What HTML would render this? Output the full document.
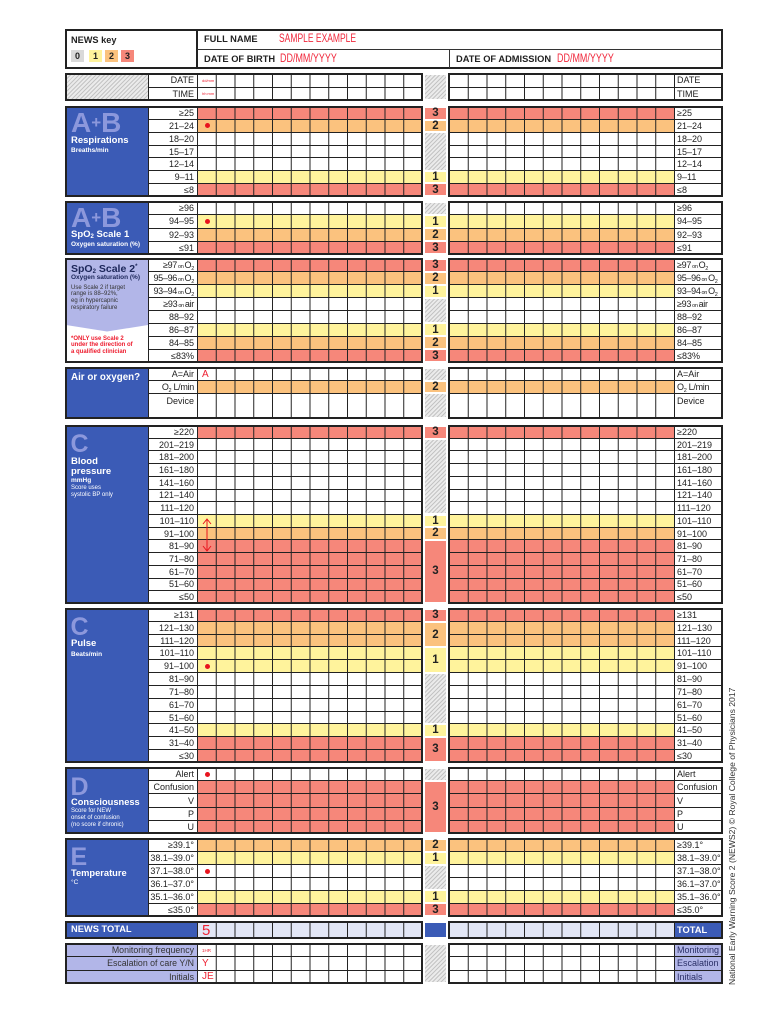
<!DOCTYPE html>
<html><head><meta charset="utf-8">
<style>
*{margin:0;padding:0;box-sizing:border-box}
html,body{width:768px;height:1024px;background:#fff;overflow:hidden}
body{position:relative;font-family:"Liberation Sans",Arial,sans-serif;color:#222}
.a{position:absolute;white-space:nowrap}
.rows{position:absolute;display:flex;flex-direction:column}
.L{left:148px;width:274px}
.Rt{left:449px;width:273px}
.r{flex:1 1 0;display:flex;border-bottom:1px solid #222;min-height:0}
.r:last-child{border-bottom:0}
.r b{width:49px;flex:none;font-weight:normal;font-size:9px;background:#fff;display:flex;align-items:center;justify-content:flex-end;padding-right:3px;white-space:nowrap;overflow:hidden;border-left:1px solid #222;color:#222}
.r i{flex:1;position:relative;background-image:linear-gradient(to right,#222 1px,transparent 1px);background-size:18.75px 100%}
.Rt .r{flex-direction:row-reverse}
.Rt .r b{width:48px;justify-content:flex-start;padding-left:2px;padding-right:0}
.R i{background-color:#f6877a}
.O i{background-color:#fbc27e}
.Y i{background-color:#fff39c}
.T i{background-color:#e2e6f5}
.bx{position:absolute;border:2px solid #222;pointer-events:none}
.m{position:absolute;left:425px;width:21px;top:calc((var(--t) + var(--rh) * var(--a)) * 1px + 1px);height:calc(var(--rh) * var(--n) * 1px - 2px);display:flex;align-items:center;justify-content:center;font-weight:bold;font-size:11.5px;color:#222}
.h{background:repeating-linear-gradient(-45deg,#c4c4c4 0 1px,#ebebeb 1px 3px)}
.mR{background:#f6877a}.mO{background:#fbc27e}.mY{background:#fff39c}.mB{background:#3b5bb6}
.pan{position:absolute;left:66px;width:82px;background:#3b5bb6}
.big{position:absolute;left:70.5px;font-weight:bold;color:#8c98dc;font-size:25px;line-height:25px;white-space:nowrap}
.tt{position:absolute;left:71px;font-weight:bold;color:#fff;font-size:9.5px;line-height:9.5px;white-space:nowrap}
.st{position:absolute;left:71px;font-weight:bold;color:#fff;font-size:6.5px;line-height:6.5px;white-space:nowrap}
.sm{position:absolute;left:71px;color:#fff;font-size:6px;line-height:7px;white-space:nowrap}
.d{position:absolute;left:7.5px;top:50%;width:5px;height:5px;margin-top:-2.5px;border-radius:50%;background:#e8141e}
.rd{position:absolute;left:5px;top:0;bottom:0;display:flex;align-items:center;color:#ee2233;font-style:normal;font-size:10px}
.r b span{letter-spacing:-0.3px}
.r b span s,.r b span u{text-decoration:none;font-size:5.5px}
.r b span s{margin:0 1px}
.r b span u{position:relative;top:1.5px}
.kb{position:absolute;top:50px;width:13px;height:12px;font-weight:bold;font-size:9px;line-height:12px;text-align:center;color:#222}
.hd{position:absolute;font-weight:bold;font-size:9.3px;line-height:9.3px;white-space:nowrap;color:#222}
.hw{position:absolute;font-size:11.5px;line-height:11.5px;color:#f0283c;white-space:nowrap;transform-origin:0 0}
.W .r b{width:131px;background:#b2b6e8;font-size:8.8px;color:#333;border-left:0}
.V .r b{background:#b2b6e8;color:#2a2f66}
.sub{font-size:6px;position:relative;top:1.5px}
</style></head><body>

<!-- HEADER -->
<div class="bx" style="left:65px;top:29px;width:658px;height:40px"></div>
<div class="a" style="left:196px;top:30px;width:2px;height:38px;background:#222"></div>
<div class="a" style="left:197px;top:48.5px;width:525px;height:1.5px;background:#333"></div>
<div class="a" style="left:448.5px;top:49px;width:1.5px;height:19px;background:#333"></div>
<div class="hd" style="left:71px;top:35.5px;font-size:9.2px">NEWS key</div>
<div class="kb" style="left:71px;background:#d9d9d9">0</div>
<div class="kb" style="left:89px;background:#fff39c">1</div>
<div class="kb" style="left:105px;background:#fbc27e">2</div>
<div class="kb" style="left:121px;background:#f6877a">3</div>
<div class="hd" style="left:204px;top:34.8px">FULL NAME</div>
<div class="hw" style="left:279px;top:33.5px;transform:scaleX(.74)">SAMPLE EXAMPLE</div>
<div class="hd" style="left:204px;top:54.5px">DATE OF BIRTH</div>
<div class="hw" style="left:280px;top:53.5px;transform:scaleX(.78)">DD/MM/YYYY</div>
<div class="hd" style="left:456px;top:54.5px">DATE OF ADMISSION</div>
<div class="hw" style="left:557px;top:53.5px;transform:scaleX(.78)">DD/MM/YYYY</div>

<!-- DATE/TIME -->
<div class="a h" style="left:66px;top:74px;width:82px;height:26px"></div>
<div class="rows L" style="top:74px;height:26px">
<div class="r"><b>DATE</b><i><em class="rd" style="font-size:4px">dd/mm</em></i></div>
<div class="r"><b>TIME</b><i><em class="rd" style="font-size:4px">hh:mm</em></i></div>
</div>
<div class="rows Rt" style="top:74px;height:26px">
<div class="r"><b>DATE</b><i></i></div>
<div class="r"><b>TIME</b><i></i></div>
</div>
<div style="--t:74;--rh:13"><div class="m h" style="--a:0;--n:2"></div></div>
<div class="bx" style="left:65px;top:73px;width:358px;height:28px"></div>
<div class="bx" style="left:448px;top:73px;width:275px;height:28px"></div>

<!-- RESPIRATIONS -->
<div class="pan" style="top:107px;height:89px"></div>
<div class="big" style="top:109px;font-size:28px;line-height:28px;left:71px">A<span style="font-size:17px;position:relative;top:-4px">+</span>B</div>
<div class="tt" style="top:136px">Respirations</div>
<div class="st" style="top:148.2px">Breaths/min</div>
<div class="rows L" style="top:107px;height:89px">
<div class="r R"><b>≥25</b><i></i></div>
<div class="r O"><b>21–24</b><i><em class="d"></em></i></div>
<div class="r"><b>18–20</b><i></i></div>
<div class="r"><b>15–17</b><i></i></div>
<div class="r"><b>12–14</b><i></i></div>
<div class="r Y"><b>9–11</b><i></i></div>
<div class="r R"><b>≤8</b><i></i></div>
</div>
<div class="rows Rt" style="top:107px;height:89px">
<div class="r R"><b>≥25</b><i></i></div>
<div class="r O"><b>21–24</b><i></i></div>
<div class="r"><b>18–20</b><i></i></div>
<div class="r"><b>15–17</b><i></i></div>
<div class="r"><b>12–14</b><i></i></div>
<div class="r Y"><b>9–11</b><i></i></div>
<div class="r R"><b>≤8</b><i></i></div>
</div>
<div style="--t:107;--rh:12.714">
<div class="m mR" style="--a:0;--n:1">3</div>
<div class="m mO" style="--a:1;--n:1">2</div>
<div class="m h" style="--a:2;--n:3"></div>
<div class="m mY" style="--a:5;--n:1">1</div>
<div class="m mR" style="--a:6;--n:1">3</div>
</div>
<div class="bx" style="left:65px;top:106px;width:358px;height:91px"></div>
<div class="bx" style="left:448px;top:106px;width:275px;height:91px"></div>

<!-- SPO2 SCALE 1 -->
<div class="pan" style="top:202px;height:52px"></div>
<div class="big" style="top:204.4px;font-size:28px;line-height:28px;left:71px">A<span style="font-size:17px;position:relative;top:-4px">+</span>B</div>
<div class="tt" style="top:229.8px">SpO<span class="sub">2</span> Scale 1</div>
<div class="st" style="top:242.2px">Oxygen saturation (%)</div>
<div class="rows L" style="top:202px;height:52px">
<div class="r"><b>≥96</b><i></i></div>
<div class="r Y"><b>94–95</b><i><em class="d"></em></i></div>
<div class="r O"><b>92–93</b><i></i></div>
<div class="r R"><b>≤91</b><i></i></div>
</div>
<div class="rows Rt" style="top:202px;height:52px">
<div class="r"><b>≥96</b><i></i></div>
<div class="r Y"><b>94–95</b><i></i></div>
<div class="r O"><b>92–93</b><i></i></div>
<div class="r R"><b>≤91</b><i></i></div>
</div>
<div style="--t:202;--rh:13">
<div class="m h" style="--a:0;--n:1"></div>
<div class="m mY" style="--a:1;--n:1">1</div>
<div class="m mO" style="--a:2;--n:1">2</div>
<div class="m mR" style="--a:3;--n:1">3</div>
</div>
<div class="bx" style="left:65px;top:201px;width:358px;height:54px"></div>
<div class="bx" style="left:448px;top:201px;width:275px;height:54px"></div>

<!-- SPO2 SCALE 2 -->
<svg class="a" style="left:66px;top:259px" width="82" height="103"><polygon points="0,0 82,0 82,66 41,72.5 0,66" fill="#b2b6e8"/></svg>
<div class="tt" style="top:263.6px;font-size:10.5px;line-height:10.5px;color:#1c2659">SpO<span class="sub">2</span> Scale 2<span style="font-size:6px;position:relative;top:-4px">*</span></div>
<div class="st" style="top:275px;color:#1c2659">Oxygen saturation (%)</div>
<div class="sm" style="top:284.5px;color:#333;line-height:6.9px">Use Scale 2 if target<br>range is 88–92%,<br>eg in hypercapnic<br>respiratory failure</div>
<div class="sm" style="top:335.6px;color:#ee1c2e;font-weight:bold;line-height:6.5px">*ONLY use Scale 2<br>under the direction of<br>a qualified clinician</div>
<div class="rows L" style="top:259px;height:103px">
<div class="r R"><b><span>≥97<s>on</s>O<u>2</u></span></b><i></i></div>
<div class="r O"><b><span>95–96<s>on</s>O<u>2</u></span></b><i></i></div>
<div class="r Y"><b><span>93–94<s>on</s>O<u>2</u></span></b><i></i></div>
<div class="r"><b><span>≥93<s>on</s>air</span></b><i></i></div>
<div class="r"><b>88–92</b><i></i></div>
<div class="r Y"><b>86–87</b><i></i></div>
<div class="r O"><b>84–85</b><i></i></div>
<div class="r R"><b>≤83%</b><i></i></div>
</div>
<div class="rows Rt" style="top:259px;height:103px">
<div class="r R"><b><span>≥97<s>on</s>O<u>2</u></span></b><i></i></div>
<div class="r O"><b><span>95–96<s>on</s>O<u>2</u></span></b><i></i></div>
<div class="r Y"><b><span>93–94<s>on</s>O<u>2</u></span></b><i></i></div>
<div class="r"><b><span>≥93<s>on</s>air</span></b><i></i></div>
<div class="r"><b>88–92</b><i></i></div>
<div class="r Y"><b>86–87</b><i></i></div>
<div class="r O"><b>84–85</b><i></i></div>
<div class="r R"><b>≤83%</b><i></i></div>
</div>
<div style="--t:259;--rh:12.875">
<div class="m mR" style="--a:0;--n:1">3</div>
<div class="m mO" style="--a:1;--n:1">2</div>
<div class="m mY" style="--a:2;--n:1">1</div>
<div class="m h" style="--a:3;--n:2"></div>
<div class="m mY" style="--a:5;--n:1">1</div>
<div class="m mO" style="--a:6;--n:1">2</div>
<div class="m mR" style="--a:7;--n:1">3</div>
</div>
<div class="bx" style="left:65px;top:258px;width:358px;height:105px"></div>
<div class="bx" style="left:448px;top:258px;width:275px;height:105px"></div>

<!-- AIR OR OXYGEN -->
<div class="pan" style="top:368px;height:50px"></div>
<div class="tt" style="top:372.8px;font-size:9.8px;line-height:9.8px">Air or oxygen?</div>
<div class="rows L" style="top:368px;height:50px">
<div class="r"><b>A=Air</b><i><em class="rd">A</em></i></div>
<div class="r O"><b><span>O<u>2</u> L/min</span></b><i></i></div>
<div class="r" style="flex-grow:2"><b style="align-items:flex-start;padding-top:2px">Device</b><i></i></div>
</div>
<div class="rows Rt" style="top:368px;height:50px">
<div class="r"><b>A=Air</b><i></i></div>
<div class="r O"><b><span>O<u>2</u> L/min</span></b><i></i></div>
<div class="r" style="flex-grow:2"><b style="align-items:flex-start;padding-top:2px">Device</b><i></i></div>
</div>
<div style="--t:368;--rh:12.5">
<div class="m h" style="--a:0;--n:1"></div>
<div class="m mO" style="--a:1;--n:1">2</div>
<div class="m h" style="--a:2;--n:2"></div>
</div>
<div class="bx" style="left:65px;top:367px;width:358px;height:52px"></div>
<div class="bx" style="left:448px;top:367px;width:275px;height:52px"></div>

<!-- BLOOD PRESSURE -->
<div class="pan" style="top:426px;height:177px"></div>
<div class="big" style="top:431.7px">C</div>
<div class="tt" style="top:456.5px;line-height:10px">Blood<br>pressure</div>
<div class="st" style="top:477.5px">mmHg</div>
<div class="sm" style="top:484.9px;line-height:7.6px">Score uses<br>systolic BP only</div>
<div class="rows L" style="top:426px;height:177px">
<div class="r R"><b>≥220</b><i></i></div>
<div class="r"><b>201–219</b><i></i></div>
<div class="r"><b>181–200</b><i></i></div>
<div class="r"><b>161–180</b><i></i></div>
<div class="r"><b>141–160</b><i></i></div>
<div class="r"><b>121–140</b><i></i></div>
<div class="r"><b>111–120</b><i></i></div>
<div class="r Y"><b>101–110</b><i></i></div>
<div class="r O"><b>91–100</b><i></i></div>
<div class="r R"><b>81–90</b><i></i></div>
<div class="r R"><b>71–80</b><i></i></div>
<div class="r R"><b>61–70</b><i></i></div>
<div class="r R"><b>51–60</b><i></i></div>
<div class="r R"><b>≤50</b><i></i></div>
</div>
<div class="rows Rt" style="top:426px;height:177px">
<div class="r R"><b>≥220</b><i></i></div>
<div class="r"><b>201–219</b><i></i></div>
<div class="r"><b>181–200</b><i></i></div>
<div class="r"><b>161–180</b><i></i></div>
<div class="r"><b>141–160</b><i></i></div>
<div class="r"><b>121–140</b><i></i></div>
<div class="r"><b>111–120</b><i></i></div>
<div class="r Y"><b>101–110</b><i></i></div>
<div class="r O"><b>91–100</b><i></i></div>
<div class="r R"><b>81–90</b><i></i></div>
<div class="r R"><b>71–80</b><i></i></div>
<div class="r R"><b>61–70</b><i></i></div>
<div class="r R"><b>51–60</b><i></i></div>
<div class="r R"><b>≤50</b><i></i></div>
</div>
<svg class="a" style="left:200px;top:516px" width="14" height="38"><path d="M7 3 V35 M3 8 L7 3 L11 8 M3 30 L7 35 L11 30" stroke="#e8141e" fill="none" stroke-width="1"/></svg>
<div style="--t:426;--rh:12.643">
<div class="m mR" style="--a:0;--n:1">3</div>
<div class="m h" style="--a:1;--n:6"></div>
<div class="m mY" style="--a:7;--n:1">1</div>
<div class="m mO" style="--a:8;--n:1">2</div>
<div class="m mR" style="--a:9;--n:5">3</div>
</div>
<div class="bx" style="left:65px;top:425px;width:358px;height:179px"></div>
<div class="bx" style="left:448px;top:425px;width:275px;height:179px"></div>

<!-- PULSE -->
<div class="pan" style="top:609px;height:153px"></div>
<div class="big" style="top:615px">C</div>
<div class="tt" style="top:638.8px">Pulse</div>
<div class="st" style="top:651.9px">Beats/min</div>
<div class="rows L" style="top:609px;height:153px">
<div class="r R"><b>≥131</b><i></i></div>
<div class="r O"><b>121–130</b><i></i></div>
<div class="r O"><b>111–120</b><i></i></div>
<div class="r Y"><b>101–110</b><i></i></div>
<div class="r Y"><b>91–100</b><i><em class="d"></em></i></div>
<div class="r"><b>81–90</b><i></i></div>
<div class="r"><b>71–80</b><i></i></div>
<div class="r"><b>61–70</b><i></i></div>
<div class="r"><b>51–60</b><i></i></div>
<div class="r Y"><b>41–50</b><i></i></div>
<div class="r R"><b>31–40</b><i></i></div>
<div class="r R"><b>≤30</b><i></i></div>
</div>
<div class="rows Rt" style="top:609px;height:153px">
<div class="r R"><b>≥131</b><i></i></div>
<div class="r O"><b>121–130</b><i></i></div>
<div class="r O"><b>111–120</b><i></i></div>
<div class="r Y"><b>101–110</b><i></i></div>
<div class="r Y"><b>91–100</b><i></i></div>
<div class="r"><b>81–90</b><i></i></div>
<div class="r"><b>71–80</b><i></i></div>
<div class="r"><b>61–70</b><i></i></div>
<div class="r"><b>51–60</b><i></i></div>
<div class="r Y"><b>41–50</b><i></i></div>
<div class="r R"><b>31–40</b><i></i></div>
<div class="r R"><b>≤30</b><i></i></div>
</div>
<div style="--t:609;--rh:12.75">
<div class="m mR" style="--a:0;--n:1">3</div>
<div class="m mO" style="--a:1;--n:2">2</div>
<div class="m mY" style="--a:3;--n:2">1</div>
<div class="m h" style="--a:5;--n:4"></div>
<div class="m mY" style="--a:9;--n:1">1</div>
<div class="m mR" style="--a:10;--n:2">3</div>
</div>
<div class="bx" style="left:65px;top:608px;width:358px;height:155px"></div>
<div class="bx" style="left:448px;top:608px;width:275px;height:155px"></div>

<!-- CONSCIOUSNESS -->
<div class="pan" style="top:768px;height:65px"></div>
<div class="big" style="top:774.7px">D</div>
<div class="tt" style="top:797.8px;font-size:9.3px">Consciousness</div>
<div class="sm" style="top:808px">Score for NEW<br>onset of confusion<br>(no score if chronic)</div>
<div class="rows L" style="top:768px;height:65px">
<div class="r"><b>Alert</b><i><em class="d"></em></i></div>
<div class="r R"><b>Confusion</b><i></i></div>
<div class="r R"><b>V</b><i></i></div>
<div class="r R"><b>P</b><i></i></div>
<div class="r R"><b>U</b><i></i></div>
</div>
<div class="rows Rt" style="top:768px;height:65px">
<div class="r"><b>Alert</b><i></i></div>
<div class="r R"><b>Confusion</b><i></i></div>
<div class="r R"><b>V</b><i></i></div>
<div class="r R"><b>P</b><i></i></div>
<div class="r R"><b>U</b><i></i></div>
</div>
<div style="--t:768;--rh:13">
<div class="m h" style="--a:0;--n:1"></div>
<div class="m mR" style="--a:1;--n:4">3</div>
</div>
<div class="bx" style="left:65px;top:767px;width:358px;height:67px"></div>
<div class="bx" style="left:448px;top:767px;width:275px;height:67px"></div>

<!-- TEMPERATURE -->
<div class="pan" style="top:839px;height:77px"></div>
<div class="big" style="top:845px">E</div>
<div class="tt" style="top:868.8px;font-size:9.3px">Temperature</div>
<div class="sm" style="top:879px;font-size:6.5px">°C</div>
<div class="rows L" style="top:839px;height:77px">
<div class="r O"><b>≥39.1°</b><i></i></div>
<div class="r Y"><b>38.1–39.0°</b><i></i></div>
<div class="r"><b>37.1–38.0°</b><i><em class="d"></em></i></div>
<div class="r"><b>36.1–37.0°</b><i></i></div>
<div class="r Y"><b>35.1–36.0°</b><i></i></div>
<div class="r R"><b>≤35.0°</b><i></i></div>
</div>
<div class="rows Rt" style="top:839px;height:77px">
<div class="r O"><b>≥39.1°</b><i></i></div>
<div class="r Y"><b>38.1–39.0°</b><i></i></div>
<div class="r"><b>37.1–38.0°</b><i></i></div>
<div class="r"><b>36.1–37.0°</b><i></i></div>
<div class="r Y"><b>35.1–36.0°</b><i></i></div>
<div class="r R"><b>≤35.0°</b><i></i></div>
</div>
<div style="--t:839;--rh:12.833">
<div class="m mO" style="--a:0;--n:1">2</div>
<div class="m mY" style="--a:1;--n:1">1</div>
<div class="m h" style="--a:2;--n:2"></div>
<div class="m mY" style="--a:4;--n:1">1</div>
<div class="m mR" style="--a:5;--n:1">3</div>
</div>
<div class="bx" style="left:65px;top:838px;width:358px;height:79px"></div>
<div class="bx" style="left:448px;top:838px;width:275px;height:79px"></div>

<!-- NEWS TOTAL -->
<div class="pan" style="top:922px;height:16px;width:131px"></div>
<div class="tt" style="top:924.5px;font-size:9.3px;line-height:9.3px">NEWS TOTAL</div>
<div class="rows" style="left:197px;width:225px;top:922px;height:16px">
<div class="r T"><i><em class="rd" style="font-size:15px;left:5px">5</em></i></div>
</div>
<div class="rows Rt" style="top:922px;height:16px">
<div class="r T"><b style="background:#3b5bb6;color:#fff;font-weight:bold;font-size:9.3px">TOTAL</b><i></i></div>
</div>
<div style="--t:922;--rh:16"><div class="m mB" style="--a:0;--n:1"></div></div>
<div class="bx" style="left:65px;top:921px;width:358px;height:18px"></div>
<div class="bx" style="left:448px;top:921px;width:275px;height:18px"></div>

<!-- BOTTOM -->
<div class="rows W" style="left:66px;width:356px;top:944px;height:39px">
<div class="r"><b>Monitoring frequency</b><i><em class="rd" style="font-size:4.5px">1HR</em></i></div>
<div class="r"><b>Escalation of care Y/N</b><i><em class="rd">Y</em></i></div>
<div class="r"><b>Initials</b><i><em class="rd">JE</em></i></div>
</div>
<div class="rows Rt V" style="top:944px;height:39px">
<div class="r"><b>Monitoring</b><i></i></div>
<div class="r"><b>Escalation</b><i></i></div>
<div class="r"><b>Initials</b><i></i></div>
</div>
<div style="--t:944;--rh:13"><div class="m h" style="--a:0;--n:3"></div></div>
<div class="bx" style="left:65px;top:943px;width:358px;height:41px"></div>
<div class="bx" style="left:448px;top:943px;width:275px;height:41px"></div>

<!-- VERTICAL CREDIT -->
<div class="a" style="left:727px;top:985px;width:300px;height:11px;transform-origin:0 0;transform:rotate(-90deg);font-size:8.6px;line-height:11px;color:#333">National Early Warning Score 2 (NEWS2) © Royal College of Physicians 2017</div>

</body></html>
